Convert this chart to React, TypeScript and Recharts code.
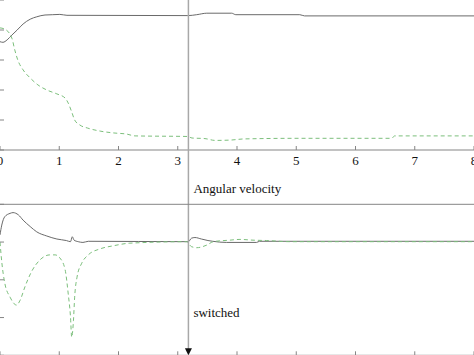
import { Line, LineChart, ReferenceLine, XAxis, YAxis } from "recharts";

// Two stacked panels cropped from a bigger figure. Plot edges sit right on
// (or just past) the picture border, so the charts are shifted by -20px.
const X_TICKS = [0, 1, 2, 3, 4, 5, 6, 7, 8];
const TOP_Y_TICKS = [0, 1, 2, 3, 4, 5];
const BOTTOM_Y_TICKS = [-3, -2, -1, 0, 1];
const SWITCH_T = 3.18;

// upper panel
const TOP_SOLID_T = [0, 0.05, 0.12, 0.2, 0.29, 0.39, 0.51, 0.62, 0.76, 0.89, 1.01, 1.13, 3.17, 3.32, 3.49, 3.91, 3.98, 5.06, 5.14, 8];
const TOP_SOLID_V = [3.61, 3.59, 3.67, 3.83, 4.0, 4.2, 4.36, 4.44, 4.5, 4.51, 4.52, 4.49, 4.48, 4.51, 4.56, 4.56, 4.51, 4.51, 4.47, 4.47];
const TOP_DASH_T = [0, 0.08, 0.2, 0.25, 0.3, 0.39, 0.51, 0.64, 0.79, 0.96, 1.1, 1.15, 1.21, 1.26, 1.35, 1.48, 1.69, 1.91, 2.14, 2.28, 3.17, 3.24, 3.46, 3.63, 3.88, 4.13, 5.06, 6.61, 6.66, 8];
const TOP_DASH_V = [4.07, 4.03, 3.73, 3.33, 3.0, 2.67, 2.4, 2.17, 2.0, 1.87, 1.73, 1.57, 1.27, 1.0, 0.83, 0.73, 0.63, 0.57, 0.53, 0.47, 0.45, 0.4, 0.38, 0.32, 0.33, 0.37, 0.39, 0.39, 0.47, 0.47];

// lower panel
const BOT_SOLID_T = [0, 0.03, 0.08, 0.17, 0.22, 0.31, 0.39, 0.51, 0.62, 0.79, 0.96, 1.12, 1.19, 1.22, 1.25, 1.32, 1.4, 1.49, 3.18, 3.23, 3.29, 3.4, 3.51, 3.59, 3.82, 4.33, 4.38, 8];
const BOT_SOLID_V = [0.19, 0.45, 0.67, 0.76, 0.78, 0.72, 0.58, 0.41, 0.27, 0.16, 0.08, 0.04, 0.01, 0.14, 0.05, 0.01, -0.01, 0.02, 0.01, 0.1, 0.12, 0.08, 0.04, 0.02, -0.01, -0.01, 0.02, 0.02];
const BOT_DASH_T = [0, 0.03, 0.08, 0.17, 0.28, 0.34, 0.42, 0.53, 0.67, 0.84, 0.93, 1.01, 1.1, 1.15, 1.19, 1.21, 1.24, 1.26, 1.3, 1.38, 1.49, 1.69, 1.91, 2.19, 3.15, 3.23, 3.32, 3.49, 3.6, 3.88, 4.05, 4.27, 4.5, 4.89, 8];
const BOT_DASH_V = [0.0, -0.53, -1.08, -1.46, -1.67, -1.54, -1.19, -0.79, -0.48, -0.34, -0.34, -0.42, -0.74, -1.35, -1.99, -2.52, -2.07, -1.46, -0.93, -0.56, -0.34, -0.18, -0.1, -0.03, 0.01, -0.12, -0.15, -0.08, 0.01, 0.05, 0.07, 0.05, 0.04, 0.01, 0.01];

const zip = (t: number[], v: number[]) => t.map((x, i) => ({ t: x, v: v[i] }));

const SOLID = "#6a6a6a";
const DASH = "#7cbf7c";
const AXIS = "#858585";
const FONT = "'Liberation Serif', 'Times New Roman', serif";
const TICK_LEN = 4;

// tickSize/tickMargin are 0, so the tick props' x/y sit right on the axis;
// draw the gnuplot-style inward tick mark (and label) from there.
function inwardTick(side: "top" | "bottom" | "left" | "right", label = false) {
  return (p: any) => {
    const { x, y, payload } = p;
    let x2 = x;
    let y2 = y;
    if (side === "bottom") y2 = y - TICK_LEN;
    if (side === "top") y2 = y + TICK_LEN;
    if (side === "left") x2 = x + TICK_LEN;
    if (side === "right") x2 = x - TICK_LEN - 1;
    return (
      <g>
        <line x1={x} y1={y} x2={x2} y2={y2} stroke={AXIS} strokeWidth={1} />
        {label && (
          <text x={x} y={y + 15} textAnchor="middle" fontFamily={FONT} fontSize={13} fill="#111">
            {payload.value}
          </text>
        )}
      </g>
    );
  };
}

function SwitchArrow(props: any) {
  const { x1, y1, y2 } = props;
  return (
    <g>
      <line x1={x1} y1={y1} x2={x1} y2={y2 - 6} stroke="#a8a8a8" strokeWidth={1.5} />
      <polygon points={`${x1 - 3.5},${y2 - 7} ${x1 + 3.5},${y2 - 7} ${x1},${y2}`} fill="#111" />
      <text x={x1 + 5} y={y2 - 162} fontFamily={FONT} fontSize={13} fill="#111">
        Angular velocity
      </text>
      <text x={x1 + 5} y={y2 - 38} fontFamily={FONT} fontSize={13} fill="#111">
        switched
      </text>
    </g>
  );
}

// axes with a 0 width/height are not drawn at all, so the frame axes get 1px
const axisCommon = { tickSize: 0, tickMargin: 0, tickLine: false, stroke: AXIS } as const;

export default function App() {
  return (
    <div style={{ position: "absolute", left: 0, top: 0, width: 474, height: 355, overflow: "hidden", background: "#fff" }}>
      <div style={{ position: "absolute", left: -20, top: -20 }}>
        <LineChart width={514} height={200} margin={{ top: 19, right: 19, bottom: 0, left: 19 }}>
          <XAxis {...axisCommon} dataKey="t" type="number" domain={[0, 8]} ticks={X_TICKS} interval={0} height={30} tick={inwardTick("bottom", true)} />
          <XAxis {...axisCommon} xAxisId="top" orientation="top" dataKey="t" type="number" domain={[0, 8]} ticks={X_TICKS} interval={0} height={1} axisLine={false} tick={inwardTick("top")} />
          <YAxis {...axisCommon} domain={[0, 5]} ticks={TOP_Y_TICKS} interval={0} width={1} axisLine={false} tick={inwardTick("left")} />
          <YAxis {...axisCommon} yAxisId="r" orientation="right" domain={[0, 5]} ticks={TOP_Y_TICKS} interval={0} width={1} axisLine={false} tick={inwardTick("right")} />
          <Line data={zip(TOP_SOLID_T, TOP_SOLID_V)} dataKey="v" type="monotone" stroke={SOLID} strokeWidth={1} dot={false} isAnimationActive={false} />
          <Line data={zip(TOP_DASH_T, TOP_DASH_V)} dataKey="v" type="monotone" stroke={DASH} strokeWidth={1} strokeDasharray="4 3" dot={false} isAnimationActive={false} />
        </LineChart>
      </div>
      <div style={{ position: "absolute", left: -20, top: -20 }}>
        <LineChart width={514} height={406} margin={{ top: 223.3, right: 19, bottom: 0.7, left: 19 }}>
          <XAxis {...axisCommon} dataKey="t" type="number" domain={[0, 8]} ticks={X_TICKS} interval={0} height={30} tick={inwardTick("bottom")} />
          <XAxis {...axisCommon} xAxisId="top" orientation="top" dataKey="t" type="number" domain={[0, 8]} ticks={X_TICKS} interval={0} height={1} tick={inwardTick("top")} />
          <YAxis {...axisCommon} domain={[-3, 1]} ticks={BOTTOM_Y_TICKS} interval={0} width={1} axisLine={false} tick={inwardTick("left")} />
          <YAxis {...axisCommon} yAxisId="r" orientation="right" domain={[-3, 1]} ticks={BOTTOM_Y_TICKS} interval={0} width={1} axisLine={false} tick={inwardTick("right")} />
          <Line data={zip(BOT_SOLID_T, BOT_SOLID_V)} dataKey="v" type="monotone" stroke={SOLID} strokeWidth={1} dot={false} isAnimationActive={false} />
          <Line data={zip(BOT_DASH_T, BOT_DASH_V)} dataKey="v" type="monotone" stroke={DASH} strokeWidth={1} strokeDasharray="4 3" dot={false} isAnimationActive={false} />
          <ReferenceLine
            segment={[{ x: SWITCH_T, y: 7 }, { x: SWITCH_T, y: -3 }]}
            ifOverflow="visible"
            shape={SwitchArrow}
          />
        </LineChart>
      </div>
    </div>
  );
}
